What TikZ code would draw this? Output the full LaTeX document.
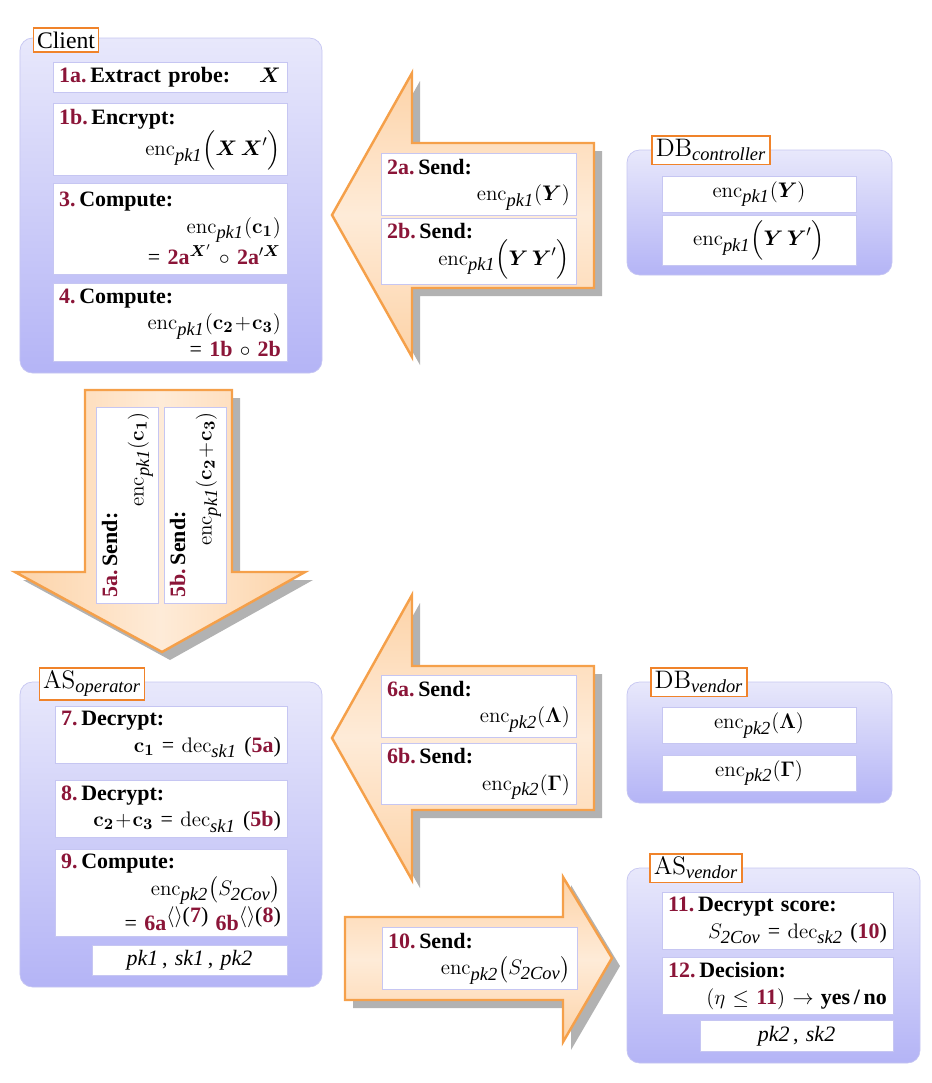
\documentclass[tikz,border=0pt]{standalone}
\usepackage{amsmath,amssymb}
\usepackage[no-math]{fontspec}
\setmainfont{Liberation Serif}
\usepackage{tikz}
\definecolor{lavtop}{HTML}{E8E8FB}
\definecolor{lavbot}{HTML}{B4B4F6}
\definecolor{lavline}{HTML}{C6C6F2}
\definecolor{arrline}{HTML}{F5A04A}
\definecolor{arrfill}{HTML}{FDD3A8}
\definecolor{tagline}{HTML}{F0832A}
\definecolor{stepnum}{HTML}{8B1538}
\tikzset{
outer/.style={draw=lavline, top color=lavtop, bottom color=lavbot, rounded corners=0.25cm},
stepbox/.style={draw=lavline, fill=white, inner sep=3pt, align=left, font=\fontsize{12.5}{15}\selectfont},
mid/.style={stepbox, align=center},
tag/.style={draw=tagline, fill=white, line width=0.9pt, inner sep=2pt, font=\fontsize{13.5}{15}\selectfont},
send/.style={draw=arrline, line width=1.4pt, top color=arrfill, bottom color=arrfill, middle color=arrfill!45},
sendv/.style={draw=arrline, line width=1.4pt, left color=arrfill, right color=arrfill, middle color=arrfill!45},
shadow/.style={fill=black!30, draw=none}
}
\newcommand\sn[1]{\textcolor{stepnum}{\textbf{#1}}}
\newcommand\subit[1]{\mbox{\fontsize{10.5}{12}\selectfont\itshape #1}}
\newcommand\enc[1]{\mathrm{enc}_{\subit{#1}}}
\newcommand\dec[1]{\mathrm{dec}_{\subit{#1}}}
\newcommand\R{\hspace*{\fill}}
% #1 options, #2 name, #3-#6 corners in px, #7 text
\newcommand\boxat[7][]{%
\pgfmathsetmacro\bw{(#5-#3)*0.02}%
\pgfmathsetmacro\bh{(#6-#4)*0.02}%
\pgfmathsetmacro\tw{(#5-#3)*0.02*28.4528-7}%
\node[#1, minimum width=\bw cm, minimum height=\bh cm, text width=\tw pt] (#2) at ({(#3+#5)/2},{(#4+#6)/2}) {#7};}
\begin{document}
\begin{tikzpicture}[x=0.02cm, y=-0.02cm]
\useasboundingbox (0,0) rectangle (931,1083);

% parties
\boxat[outer]{client}{20}{38}{322}{373}{}
\boxat[outer]{dbc}{627}{150}{892}{275}{}
\boxat[outer]{asop}{20}{682}{322}{987}{}
\boxat[outer]{dbv}{627}{682}{892}{803}{}
\boxat[outer]{asv}{627}{868}{920}{1063}{}

% transfers
\foreach \dx/\cur/\curv in {8/shadow/shadow, 0/send/sendv}{
\begin{scope}[xshift=\dx*0.02cm, yshift=-\dx*0.02cm]
\draw[\cur] (332,215) -- (412,73) -- (412,143) -- (594,143) -- (594,288) -- (412,288) -- (412,357) -- cycle;
\draw[\cur] (332,738) -- (412,595) -- (412,666) -- (594,666) -- (594,810) -- (412,810) -- (412,880) -- cycle;
\draw[\curv] (85,390) -- (232,390) -- (232,572) -- (305,572) -- (162,652) -- (15,572) -- (85,572) -- cycle;
\draw[\cur] (345,917) -- (563,917) -- (563,877) -- (612,958) -- (563,1042) -- (563,1000) -- (345,1000) -- cycle;
\end{scope}}

% client
\boxat[stepbox]{s1a}{53}{63}{287}{92}{\sn{1a.}\,\textbf{Extract probe:}\R$\boldsymbol{X}$}
\boxat[stepbox]{s1b}{53}{107}{287}{172}{\sn{1b.}\,\textbf{Encrypt:}\\\R$\enc{pk1}\Bigl(\boldsymbol{X}\,\boldsymbol{X}'\Bigr)$}
\boxat[stepbox]{s3}{53}{183}{287}{274}{\sn{3.}\,\textbf{Compute:}\\\R$\enc{pk1}(\mathbf{c_1})$\\\R= \sn{2a}$^{\boldsymbol{X}'}$ $\circ$ \sn{2a}$'^{\boldsymbol{X}}$}
\boxat[stepbox]{s4}{53}{285}{287}{360}{\sn{4.}\,\textbf{Compute:}\\\R$\enc{pk1}(\mathbf{c_2}\!+\!\mathbf{c_3})$\\\R= \sn{1b} $\circ$ \sn{2b}}
\node[tag] (tclient) at (66,40) {Client};

% DB controller
\boxat[mid]{y1}{662}{177}{856}{211}{$\enc{pk1}(\boldsymbol{Y})$}
\boxat[mid]{y2}{662}{220}{856}{261}{$\enc{pk1}\Bigl(\boldsymbol{Y}\,\boldsymbol{Y}'\Bigr)$}
\node[tag] (tdbc) at (711,150) {$\mathrm{DB}_{\subit{controller}}$};

% sends
\boxat[stepbox]{s2a}{381}{156}{576}{213}{\sn{2a.}\,\textbf{Send:}\\\R$\enc{pk1}(\boldsymbol{Y})$}
\boxat[stepbox]{s2b}{381}{223}{576}{280}{\sn{2b.}\,\textbf{Send:}\\\R$\enc{pk1}\Bigl(\boldsymbol{Y}\,\boldsymbol{Y}'\Bigr)$\R}
\node[stepbox, rotate=90, minimum width=3.92cm, minimum height=1.18cm, text width=3.7cm] (s5a) at (127.5,505) {\sn{5a.}\,\textbf{Send:}\\\R$\enc{pk1}(\mathbf{c_1})$};
\node[stepbox, rotate=90, minimum width=3.92cm, minimum height=1.14cm, text width=3.7cm] (s5b) at (195.5,505) {\sn{5b.}\,\textbf{Send:}\\\R$\enc{pk1}(\mathbf{c_2}\!+\!\mathbf{c_3})$};
\boxat[stepbox]{s6a}{381}{678}{576}{735}{\sn{6a.}\,\textbf{Send:}\\\R$\enc{pk2}(\boldsymbol{\Lambda})$}
\boxat[stepbox]{s6b}{381}{745}{576}{803}{\sn{6b.}\,\textbf{Send:}\\\R$\enc{pk2}(\boldsymbol{\Gamma})$}
\boxat[stepbox]{s10}{382}{930}{577}{987}{\sn{10.}\,\textbf{Send:}\\\R$\enc{pk2}\bigl(S_{\subit{2Cov}}\bigr)$}

% AS operator
\boxat[stepbox]{s7}{55}{708}{287}{761}{\sn{7.}\,\textbf{Decrypt:}\\\R$\mathbf{c_1}$ = $\dec{sk1}$ (\sn{5a})}
\boxat[stepbox]{s8}{55}{783}{287}{835}{\sn{8.}\,\textbf{Decrypt:}\\\R$\mathbf{c_2}\!+\!\mathbf{c_3}$ = $\dec{sk1}$ (\sn{5b})}
\boxat[stepbox]{s9}{55}{850}{287}{935}{\sn{9.}\,\textbf{Compute:}\\\R$\enc{pk2}\bigl(S_{\subit{2Cov}}\bigr)$\\\R= \sn{6a}\raisebox{0.8ex}{$\langle\rangle$(\sn{7})} \sn{6b}\raisebox{0.8ex}{$\langle\rangle$(\sn{8})}}
\boxat[mid]{kop}{92}{948}{287}{973}{\textit{pk1}\,, \textit{sk1}\,, \textit{pk2}}
\node[tag] (tasop) at (92,684) {$\mathrm{AS}_{\subit{operator}}$};

% DB vendor
\boxat[mid]{l1}{662}{708}{856}{743}{$\enc{pk2}(\boldsymbol{\Lambda})$}
\boxat[mid]{l2}{662}{756}{856}{790}{$\enc{pk2}(\boldsymbol{\Gamma})$}
\node[tag] (tdbv) at (699,682) {$\mathrm{DB}_{\subit{vendor}}$};

% AS vendor
\boxat[stepbox]{s11}{662}{893}{893}{948}{\sn{11.}\,\textbf{Decrypt score:}\\\R$S_{\subit{2Cov}}$ = $\dec{sk2}$ (\sn{10})}
\boxat[stepbox]{s12}{662}{960}{893}{1012}{\sn{12.}\,\textbf{Decision:}\\\R$(\eta$ $\leq$ \sn{11}$)$ $\rightarrow$ \textbf{yes\,/\,no}}
\boxat[mid]{kv}{700}{1023}{893}{1049}{\textit{pk2}\,, \textit{sk2}}
\node[tag] (tasv) at (696,868) {$\mathrm{AS}_{\subit{vendor}}$};
\end{tikzpicture}
\end{document}
